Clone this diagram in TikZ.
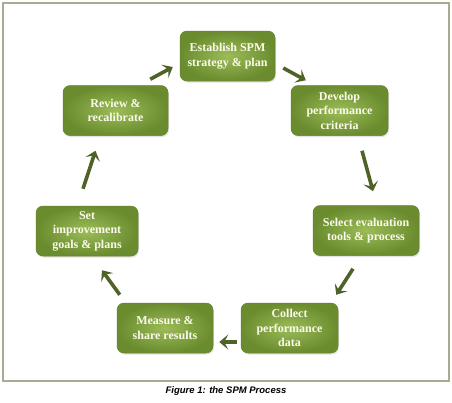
\documentclass[tikz,border=0pt]{standalone}
\usepackage{fontspec}
\setmainfont{Liberation Serif}
\newfontfamily\captionfont{Liberation Sans}
\usetikzlibrary{arrows.meta,shadows}
\definecolor{boxlight}{RGB}{156,188,88}
\definecolor{boxbot}{RGB}{106,140,46}
\definecolor{boxedge}{RGB}{100,130,44}
\definecolor{boxtext}{RGB}{252,250,236}
\definecolor{arrowgreen}{RGB}{79,98,40}
\definecolor{framecol}{RGB}{168,170,146}
\begin{document}
\begin{tikzpicture}[
        x=1pt, y=-1pt,
        stage/.style={rectangle, rounded corners=7pt, draw=boxedge, line width=0.5pt,
            inner color=boxlight, outer color=boxbot, minimum height=50pt,
            text=boxtext, align=center, font=\bfseries\fontsize{12}{14.5}\selectfont,
            drop shadow={opacity=0.22, shadow xshift=1pt, shadow yshift=-1.5pt}},
        cycle arrow/.style={draw=arrowgreen, line width=3.6pt,
            -{Stealth[length=9pt, width=15pt, inset=4pt]}}
    ]
        \useasboundingbox (0,0) rectangle (452,402);
        \draw[framecol, line width=1.2pt] (3,3) rectangle (449,381);

        % Các bước của quy trình
        \node[stage, minimum width=95pt] (est) at (227.5,56) {Establish SPM\\strategy \& plan};
        \node[stage, minimum width=105pt] (rev) at (115.5,110.5) {Review \&\\recalibrate};
        \node[stage, minimum width=97pt] (dev) at (339.5,110.5) {Develop\\performance\\criteria};
        \node[stage, minimum width=102pt] (set) at (87,231) {Set\\improvement\\goals \& plans};
        \node[stage, minimum width=106pt] (sel) at (366,230.5) {Select evaluation\\tools \& process};
        \node[stage, minimum width=96pt] (meas) at (165,328) {Measure \&\\share results};
        \node[stage, minimum width=97pt] (coll) at (289.5,328) {Collect\\performance\\data};

        % Các mũi tên vòng
        \draw[cycle arrow] ([xshift=-18pt, yshift=6pt]rev.north east) -- ([xshift=-7pt, yshift=-11pt]est.west);
        \draw[cycle arrow] ([xshift=8pt, yshift=-12pt]est.east) -- ([xshift=15pt, yshift=5pt]dev.north west);
        \draw[cycle arrow] ([xshift=22.5pt, yshift=-15pt]dev.south) -- ([xshift=7pt, yshift=14pt]sel.north);
        \draw[cycle arrow] ([xshift=-13pt, yshift=-13pt]sel.south) -- ([xshift=-2pt, yshift=8pt]coll.north east);
        \draw[cycle arrow] ([xshift=-4pt, yshift=-14pt]coll.west) -- ([xshift=6pt, yshift=-14pt]meas.east);
        \draw[cycle arrow] ([xshift=3pt, yshift=8pt]meas.north west) -- ([xshift=15pt, yshift=-14pt]set.south);
        \draw[cycle arrow] ([xshift=-4pt, yshift=17pt]set.north) -- ([xshift=-20pt, yshift=-15pt]rev.south);

        % Chú thích
        \node[font=\captionfont\bfseries\itshape\fontsize{9.5}{11}\selectfont] (cap) at (226,391) {Figure 1: the SPM Process};
    \end{tikzpicture}
\end{document}
